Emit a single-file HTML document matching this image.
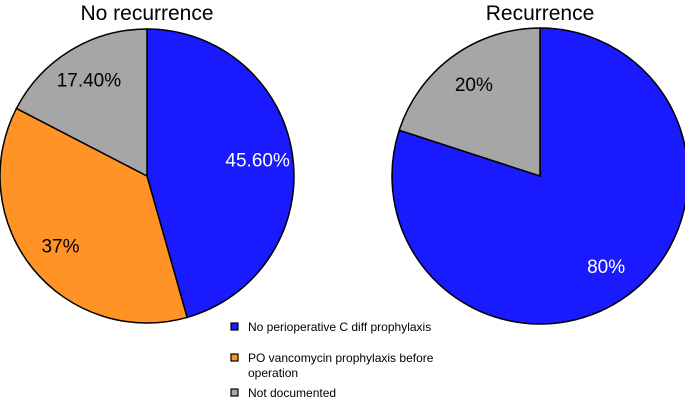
<!DOCTYPE html>
<html><head><meta charset="utf-8"><style>
body{margin:0;background:#fff;font-family:"Liberation Sans",sans-serif}
svg text{font-family:"Liberation Sans",sans-serif}
</style></head><body>
<svg width="685" height="401" id="c">
<text x="147" y="20" font-size="21" text-anchor="middle">No recurrence</text>
<text x="540" y="20" font-size="21" text-anchor="middle">Recurrence</text>
<g font-size="12">
<rect x="231" y="323" width="7" height="7" fill="#1a1aff" stroke="#000" stroke-width="1.2"/>
<text x="248" y="331">No perioperative C diff prophylaxis</text>
<rect x="231" y="354" width="7" height="7" fill="#ff9326" stroke="#000" stroke-width="1.2"/>
<text x="248" y="362">PO vancomycin prophylaxis before</text>
<text x="248" y="377">operation</text>
<rect x="231" y="389" width="7" height="7" fill="#a6a6a6" stroke="#000" stroke-width="1.2"/>
<text x="248" y="397">Not documented</text>
</g>
</svg>
<script>
const leftValues=[45.6,37,17.4];
const leftLabels=["45.60%","37%","17.40%"];
const rightValues=[80,20];
const rightLabels=["80%","20%"];
const leftColors=["#1a1aff","#ff9326","#a6a6a6"];
const rightColors=["#1a1aff","#a6a6a6"];
const leftText=["#fff","#000","#000"];
const rightText=["#fff","#000"];
const svg=document.getElementById('c');
const NS="http://www.w3.org/2000/svg";
function pie(cx,cy,r,vals,labels,cols,tcols,prefix){
  const tot=vals.reduce((a,b)=>a+b,0);let a0=-Math.PI/2;
  vals.forEach((v,i)=>{
    const a1=a0+v/tot*2*Math.PI;
    const p=document.createElementNS(NS,'path');
    const large=(a1-a0)>Math.PI?1:0;
    p.setAttribute('d',`M${cx},${cy}L${cx+r*Math.cos(a0)},${cy+r*Math.sin(a0)}A${r},${r} 0 ${large} 1 ${cx+r*Math.cos(a1)},${cy+r*Math.sin(a1)}Z`);
    p.setAttribute('fill',cols[i]);p.setAttribute('stroke','#000');p.setAttribute('stroke-width','1.5');
    
    
    svg.appendChild(p);
    const am=(a0+a1)/2, lr=r*0.76;
    const t=document.createElementNS(NS,'text');
    t.setAttribute('x',cx+lr*Math.cos(am));t.setAttribute('y',cy+lr*Math.sin(am)+6);
    t.setAttribute('font-size','19');t.setAttribute('text-anchor','middle');t.setAttribute('fill',tcols[i]);
    t.textContent=labels[i];
    
    
    svg.appendChild(t);
    a0=a1;
  });
}
pie(147,176,147,leftValues,leftLabels,leftColors,leftText,'no-recurrence');
pie(540,176,148,rightValues,rightLabels,rightColors,rightText,'recurrence');
</script>
</body></html>
